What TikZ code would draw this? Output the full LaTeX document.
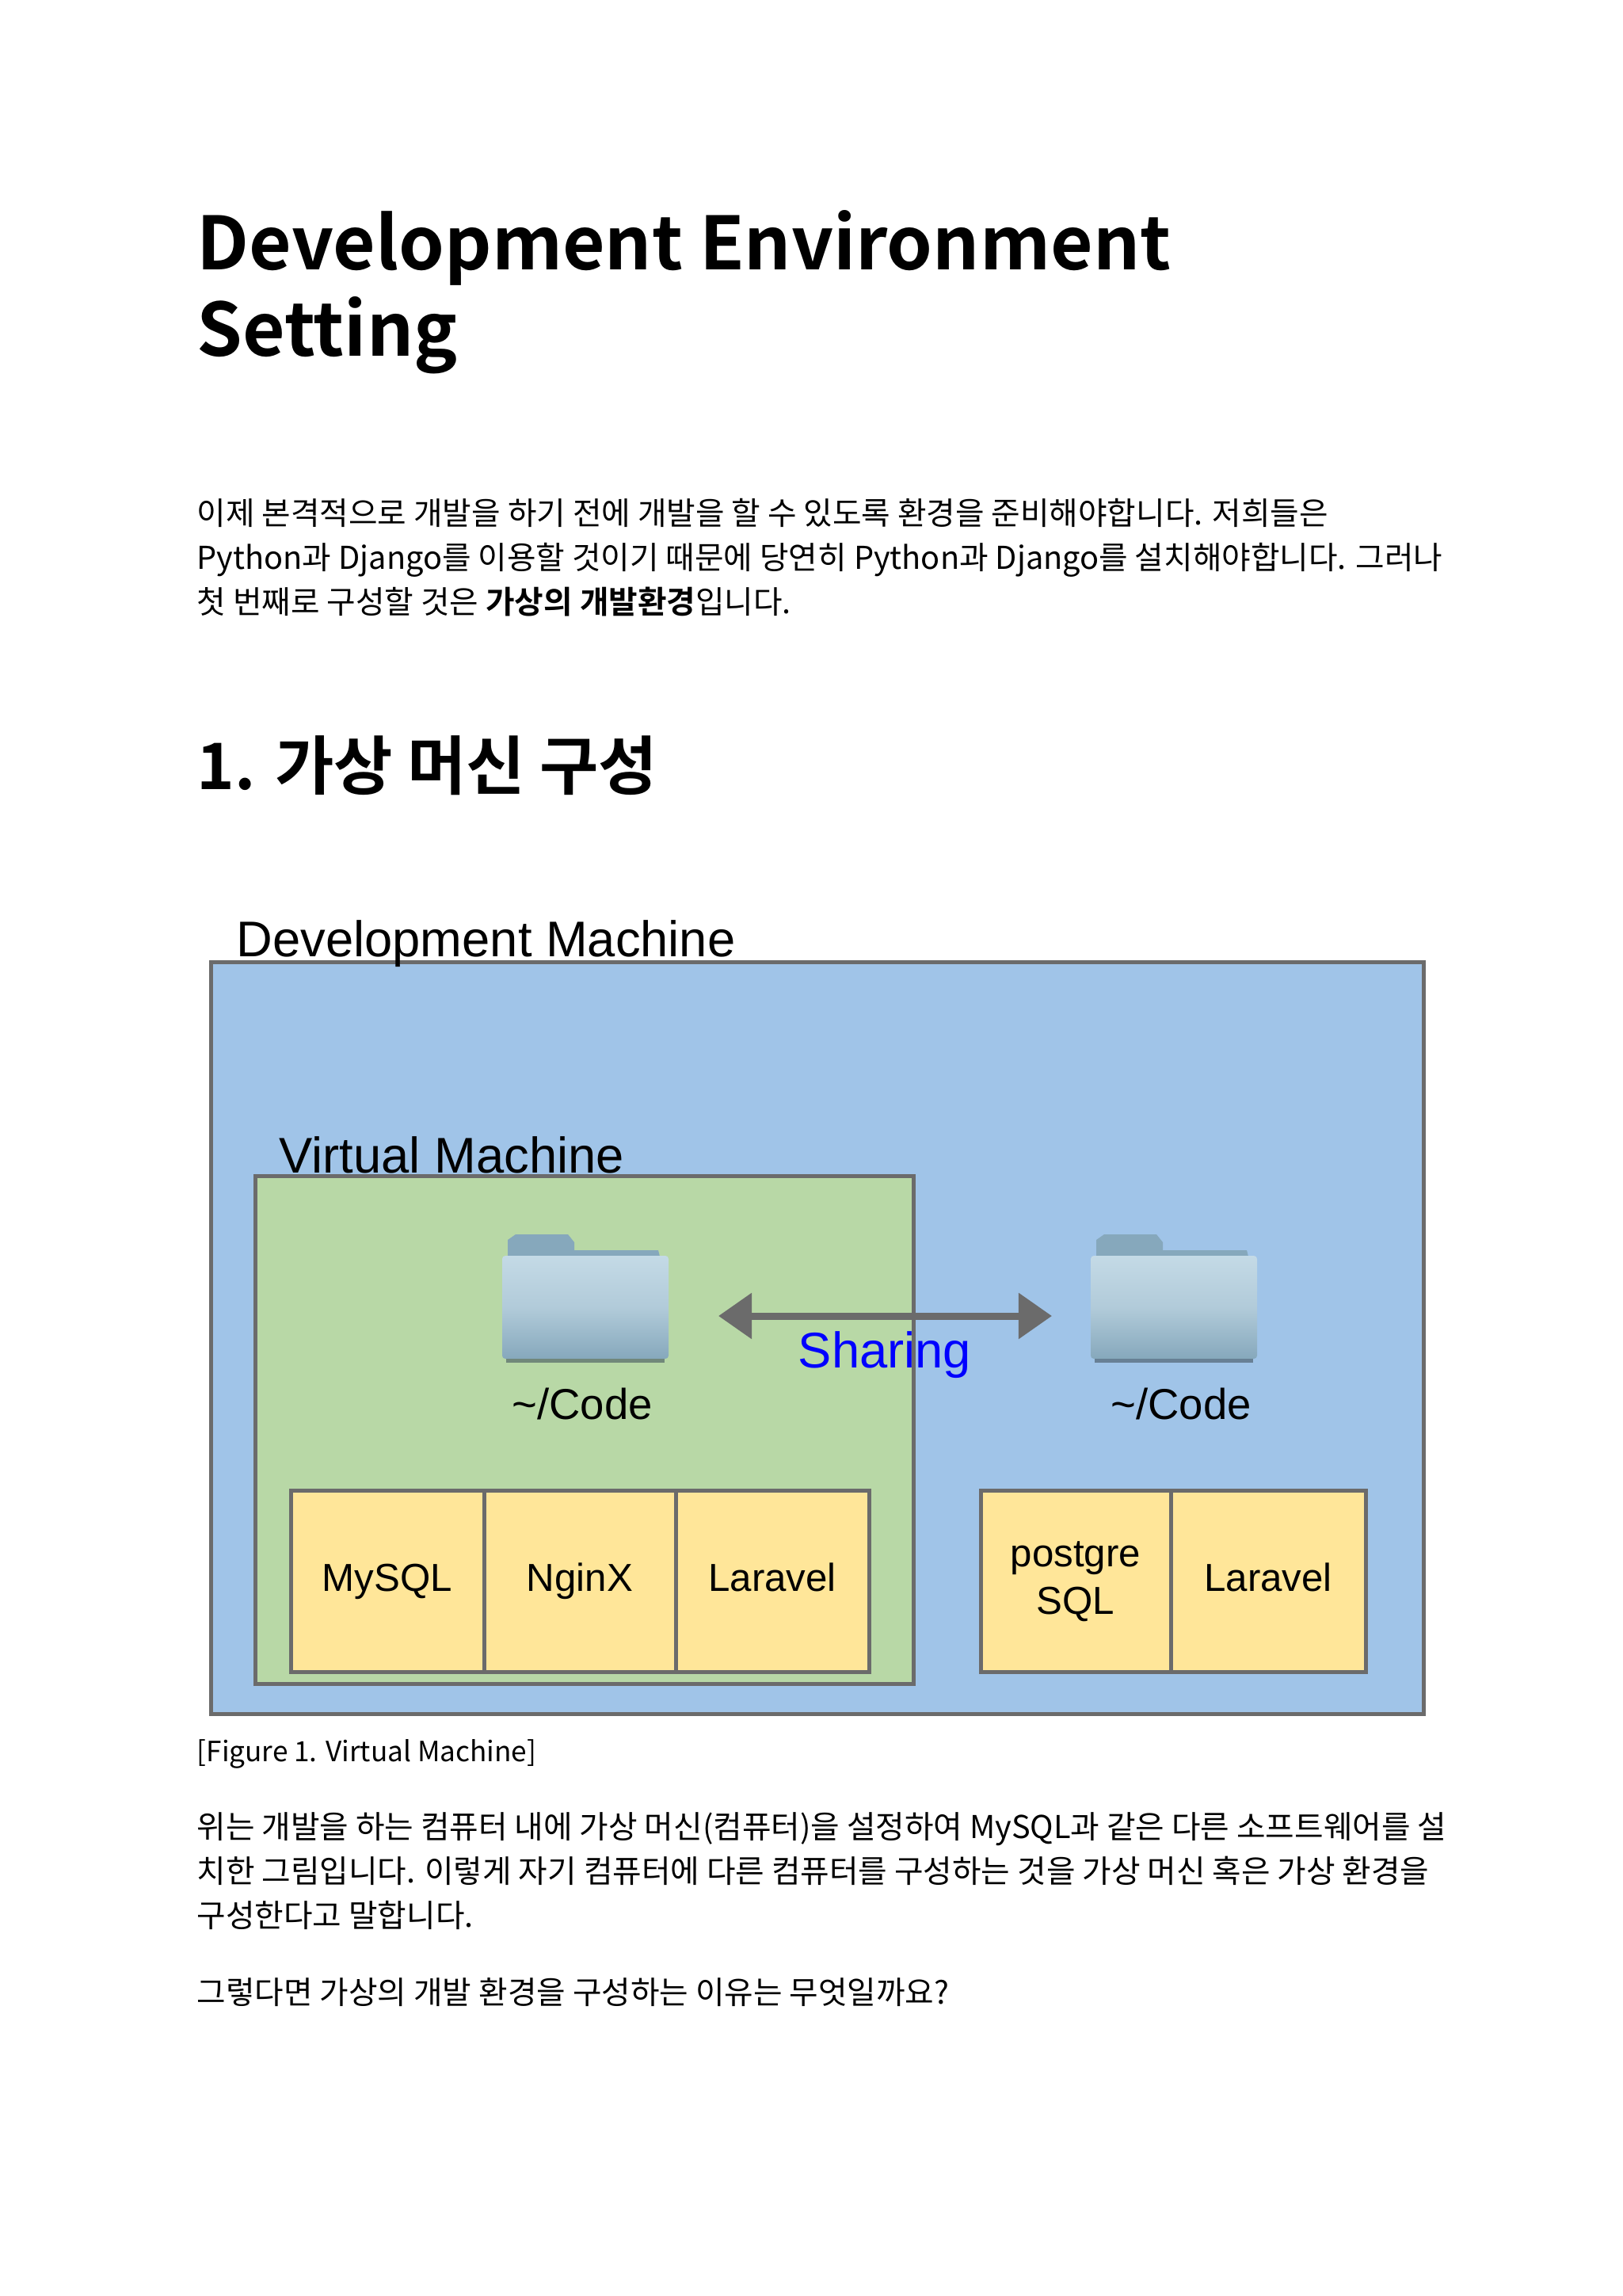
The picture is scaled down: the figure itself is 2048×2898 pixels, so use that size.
\documentclass[tikz,border=0pt]{standalone}
\usepackage{fontspec}
\setmainfont{Noto Sans CJK KR}[BoldFont={Noto Sans CJK KR Bold}]
\newfontfamily\arial{Liberation Sans}
\usetikzlibrary{arrows.meta}
\definecolor{devblue}{HTML}{A0C4E8}
\definecolor{vmgreen}{HTML}{B8D8A6}
\definecolor{ylw}{HTML}{FFE699}
\definecolor{bord}{HTML}{6B6B6B}
\definecolor{fold1}{HTML}{C4DAE6}
\definecolor{fold2}{HTML}{86A8BC}
\tikzset{
  body/.style={anchor=base west,inner sep=0,font=\fontsize{11.3}{13}\selectfont},
  boxlab/.style={font=\arial\fontsize{14}{17}\selectfont,inner sep=0},
  sw/.style={draw=bord,line width=0.05cm},
}
\begin{document}
\begin{tikzpicture}[x=0.01cm,y=-0.01cm]
\useasboundingbox (0,0) rectangle (2048,2898);
\node[body,font=\bfseries\fontsize{26.3}{30}\selectfont] (t1) at (248,341) {Development Environment};
\node[body,font=\bfseries\fontsize{26.3}{30}\selectfont] (t2) at (248,450) {Setting};
\node[body] (p1) at (248,663) {이제 본격적으로 개발을 하기 전에 개발을 할 수 있도록 환경을 준비해야합니다. 저희들은};
\node[body] (p2) at (248,719) {Python과 Django를 이용할 것이기 때문에 당연히 Python과 Django를 설치해야합니다. 그러나};
\node[body] (p3) at (248,775) {첫 번째로 구성할 것은 \textbf{가상의 개발환경}입니다.};
\node[body,font=\bfseries\fontsize{23}{27}\selectfont] (h1) at (248,996) {1. 가상 머신 구성};
% diagram
\draw[sw,fill=devblue] (266,1214) rectangle (1797,2163);
\node[boxlab,anchor=base west,font=\arial\fontsize{18}{21}\selectfont] (dm) at (298,1207) {Development Machine};
\draw[sw,fill=vmgreen] (322,1484) rectangle (1153,2125);
\node[boxlab,anchor=base west,font=\arial\fontsize{18}{21}\selectfont] (vm) at (352,1480) {Virtual Machine};
% folders
\foreach \cx/\nm in {739/fa,1482/fb}{
  \begin{scope}[shift={(\cx,1640)}]
   \fill[fold2] (-98,-50) -- (-98,-75) -- (-88,-82) -- (-22,-82) -- (-14,-72) -- (-14,-62) -- (92,-62) -- (95,-50) -- cycle;
   \shade[top color=fold1,bottom color=fold2,middle color=fold1!70!fold2,rounded corners=0.04cm] (-105,-55) rectangle (105,75);
   \fill[fold2!50!black,opacity=0.6] (-100,75) rectangle (100,80);
   \coordinate (\nm) at (0,0);
  \end{scope}}
\node[boxlab,font=\arial\fontsize{15.5}{18}\selectfont,anchor=base] (c1) at (735,1791) {\textasciitilde/Code};
\node[boxlab,font=\arial\fontsize{15.5}{18}\selectfont,anchor=base] (c2) at (1491,1791) {\textasciitilde/Code};
\coordinate (al) at (907,1661);
\coordinate (ar) at (1328,1661);
\draw[draw=bord,line width=0.09cm,{Triangle[length=0.42cm,width=0.56cm]}-{Triangle[length=0.42cm,width=0.56cm]}] (al) -- (ar);
\node[boxlab,font=\arial\fontsize{18}{21}\selectfont,anchor=base,text=blue] (sh) at (1117,1726) {Sharing};
% yellow
\draw[sw,fill=ylw] (367,1881) rectangle (611,2110);
\draw[sw,fill=ylw] (611,1881) rectangle (853,2110);
\draw[sw,fill=ylw] (853,1881) rectangle (1097,2110);
\draw[sw,fill=ylw] (1238,1881) rectangle (1478,2110);
\draw[sw,fill=ylw] (1478,1881) rectangle (1724,2110);
\node[boxlab,anchor=base] (y1) at (489,2008) {MySQL};
\node[boxlab,anchor=base] (y2) at (732,2008) {NginX};
\node[boxlab,anchor=base] (y3) at (975,2008) {Laravel};
\node[boxlab,align=center] (y4) at (1358,1996) {postgre\\SQL};
\node[boxlab,anchor=base] (y5) at (1601,2008) {Laravel};
\node[body,font=\fontsize{10}{12}\selectfont] (cap) at (248,2223) {[Figure 1. Virtual Machine]};
\node[body] (q1) at (248,2320) {위는 개발을 하는 컴퓨터 내에 가상 머신(컴퓨터)을 설정하여 MySQL과 같은 다른 소프트웨어를 설};
\node[body] (q2) at (248,2376) {치한 그림입니다. 이렇게 자기 컴퓨터에 다른 컴퓨터를 구성하는 것을 가상 머신 혹은 가상 환경을};
\node[body] (q3) at (248,2432) {구성한다고 말합니다.};
\node[body] (q4) at (248,2529) {그렇다면 가상의 개발 환경을 구성하는 이유는 무엇일까요?};
\end{tikzpicture}
\end{document}
